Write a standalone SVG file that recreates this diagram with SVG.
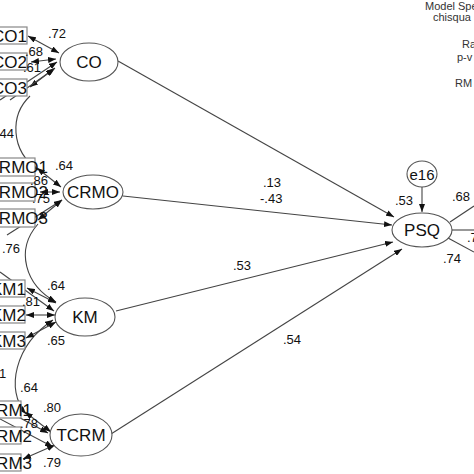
<svg xmlns="http://www.w3.org/2000/svg" width="474" height="474" viewBox="0 0 474 474">
<defs>
<marker id="a" markerWidth="8" markerHeight="6" refX="8" refY="3" orient="auto-start-reverse" markerUnits="userSpaceOnUse"><path d="M0,0 L8,3 L0,6 z" fill="#111"/></marker>
<style>
text{font-family:"Liberation Sans",Arial,sans-serif;fill:#111}
.n{font-size:17px}
.l{font-size:13px}
.m{font-size:11px;fill:#333}
.e{fill:#fff;stroke:#555;stroke-width:1.1}
.b{fill:#fff;stroke:#888;stroke-width:1.2}
.c{fill:none;stroke:#444;stroke-width:1.1}
</style>
</defs>
<rect width="474" height="474" fill="#fff"/>
<g id="connectors">
<path class="c" d="M118,61 L394,217" marker-end="url(#a)"/>
<path class="c" d="M123,196 L392,225" marker-end="url(#a)"/>
<path class="c" d="M116,311 L393,242" marker-end="url(#a)"/>
<path class="c" d="M111,434 L402,249" marker-end="url(#a)"/>
<path class="c" d="M422,187 L422,212" marker-end="url(#a)"/>
<path class="c" d="M450,222 L474,206"/>
<path class="c" d="M452,230 L474,230"/>
<path class="c" d="M448,238 L474,252"/>
<path class="c" d="M30,96 C 10,115 10,150 38,170" marker-end="url(#a)"/>
<path class="c" d="M38,224 C 15,250 25,285 56,302" marker-end="url(#a)"/>
<path class="c" d="M53,320 C 15,345 5,390 26,414" marker-start="url(#a)" marker-end="url(#a)"/>
<path class="c" d="M28,36 L59,53" marker-start="url(#a)" marker-end="url(#a)"/>
<path class="c" d="M31,62 L56,59" marker-start="url(#a)" marker-end="url(#a)"/>
<path class="c" d="M30,87 L55,68" marker-start="url(#a)" marker-end="url(#a)"/>
<path class="c" d="M0,100 L57,62" marker-end="url(#a)"/>
<path class="c" d="M10,100 L54,69" marker-end="url(#a)"/>
<path class="c" d="M37,168 L61,187" marker-start="url(#a)" marker-end="url(#a)"/>
<path class="c" d="M40,192 L60,192" marker-start="url(#a)" marker-end="url(#a)"/>
<path class="c" d="M38,220 L62,200" marker-start="url(#a)" marker-end="url(#a)"/>
<path class="c" d="M7,235 L62,200" marker-end="url(#a)"/>
<path class="c" d="M27,288 L56,303" marker-start="url(#a)" marker-end="url(#a)"/>
<path class="c" d="M26,315 L55,315" marker-start="url(#a)" marker-end="url(#a)"/>
<path class="c" d="M0,272 L54,311" marker-end="url(#a)"/>
<path class="c" d="M26,338 L56,322" marker-start="url(#a)" marker-end="url(#a)"/>
<path class="c" d="M25,412 L51,432" marker-start="url(#a)" marker-end="url(#a)"/>
<path class="c" d="M0,407 L48,433" marker-end="url(#a)"/>
<path class="c" d="M0,419 L53,447" marker-end="url(#a)"/>
<path class="c" d="M23,459 L55,445" marker-start="url(#a)" marker-end="url(#a)"/>
</g>
<g id="CO">
<ellipse class="e" cx="89" cy="62" rx="29" ry="19"/>
<text class="n" x="89" y="68" text-anchor="middle">CO</text>
</g>
<g id="CO1"><rect class="b" x="-30" y="27" width="57" height="17"/><text class="n" x="27" y="42" text-anchor="end">CO1</text></g>
<g id="CO2"><rect class="b" x="-30" y="53" width="57" height="17"/><text class="n" x="27" y="68" text-anchor="end">CO2</text></g>
<g id="CO3"><rect class="b" x="-30" y="79" width="57" height="17"/><text class="n" x="27" y="94" text-anchor="end">CO3</text></g>
<g id="CRMO">
<ellipse class="e" cx="93" cy="192" rx="30" ry="17"/>
<text class="n" x="93" y="198" text-anchor="middle">CRMO</text>
</g>
<g id="CRMO1"><rect class="b" x="-30" y="158" width="65" height="18"/><text class="n" x="48" y="173" text-anchor="end">CRMO1</text></g>
<g id="CRMO2"><rect class="b" x="-30" y="183" width="65" height="18"/><text class="n" x="48" y="198" text-anchor="end">CRMO2</text></g>
<g id="CRMO3"><rect class="b" x="-30" y="209" width="65" height="18"/><text class="n" x="48" y="224" text-anchor="end">CRMO3</text></g>
<g id="KM">
<ellipse class="e" cx="85" cy="317" rx="30" ry="19"/>
<text class="n" x="85" y="323" text-anchor="middle">KM</text>
</g>
<g id="KM1"><rect class="b" x="-30" y="280" width="55" height="17"/><text class="n" x="26" y="295" text-anchor="end">KM1</text></g>
<g id="KM2"><rect class="b" x="-30" y="306" width="55" height="17"/><text class="n" x="26" y="321" text-anchor="end">KM2</text></g>
<g id="KM3"><rect class="b" x="-30" y="332" width="55" height="17"/><text class="n" x="26" y="347" text-anchor="end">KM3</text></g>
<g id="TCRM">
<ellipse class="e" cx="81" cy="435" rx="31" ry="21"/>
<text class="n" x="81" y="441" text-anchor="middle">TCRM</text>
</g>
<g id="TCRM1"><rect class="b" x="-30" y="401" width="51" height="17"/><text class="n" x="32" y="416" text-anchor="end">TCRM1</text></g>
<g id="TCRM2"><rect class="b" x="-30" y="427" width="51" height="17"/><text class="n" x="32" y="442" text-anchor="end">TCRM2</text></g>
<g id="TCRM3"><rect class="b" x="-30" y="454" width="51" height="17"/><text class="n" x="32" y="469" text-anchor="end">TCRM3</text></g>
<g id="PSQ">
<ellipse class="e" cx="422" cy="230" rx="30" ry="17"/>
<text class="n" x="422" y="236" text-anchor="middle">PSQ</text>
</g>
<g id="e16">
<ellipse class="e" cx="422" cy="174" rx="15" ry="13"/>
<text class="n" x="422" y="180" text-anchor="middle" style="font-size:15px">e16</text>
</g>
<g id="labels">
<text class="l" x="48" y="38">.72</text>
<text class="l" x="25" y="56">.68</text>
<text class="l" x="23" y="72">.61</text>
<text class="l" x="-4" y="138">.44</text>
<text class="l" x="55" y="170">.64</text>
<text class="l" x="30" y="185">.86</text>
<text class="l" x="32" y="203">.75</text>
<text class="l" x="2" y="253">.76</text>
<text class="l" x="47" y="290">.64</text>
<text class="l" x="22" y="306">.81</text>
<text class="l" x="47" y="345">.65</text>
<text class="l" x="-1" y="378">1</text>
<text class="l" x="20" y="392">.64</text>
<text class="l" x="43" y="412">.80</text>
<text class="l" x="20" y="428">.78</text>
<text class="l" x="43" y="467">.79</text>
<text class="l" x="263" y="187">.13</text>
<text class="l" x="260" y="203">-.43</text>
<text class="l" x="233" y="270">.53</text>
<text class="l" x="283" y="344">.54</text>
<text class="l" x="395" y="205">.53</text>
<text class="l" x="452" y="201">.68</text>
<text class="l" x="467" y="242">.7</text>
<text class="l" x="443" y="263">.74</text>
<text class="m" x="425" y="10">Model Spe</text>
<text class="m" x="433" y="21">chisqua</text>
<text class="m" x="462" y="48">Ra</text>
<text class="m" x="457" y="61">p-v</text>
<text class="m" x="455" y="87">RM</text>
</g>
</svg>
